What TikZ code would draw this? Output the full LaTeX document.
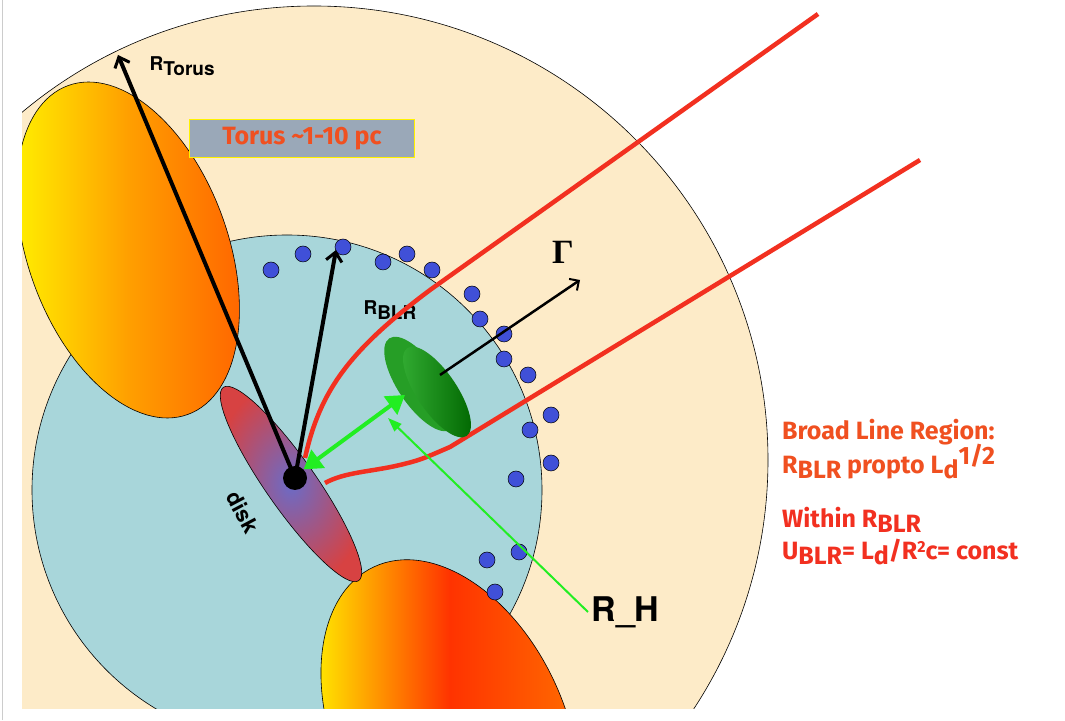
\documentclass[tikz,border=0pt]{standalone}
\usepackage{fontspec}
\setmainfont{Fira Sans}
\newfontfamily\heros{TeX Gyre Heros}
\newfontfamily\serifl{Liberation Serif}
\usetikzlibrary{arrows.meta}
\definecolor{beige}{HTML}{FDEBC8}
\definecolor{blr}{HTML}{A8D6DA}
\definecolor{dotb}{HTML}{4050D8}
\definecolor{jet}{HTML}{F23020}
\definecolor{lbl}{HTML}{F05020}
\definecolor{gr}{HTML}{22EE22}
\definecolor{boxc}{HTML}{9AA8B8}
\begin{document}
\begin{tikzpicture}[x=1pt,y=1pt,
  blob/.style={draw=black,line width=0.6pt},
  bdot/.style={circle,draw=black,line width=0.5pt,fill=dotb,minimum size=16pt,inner sep=0pt},
  barrow/.style={line width=4pt,-{Straight Barb[length=9pt,width=16pt,line width=3pt]}},
  jetl/.style={jet,line width=4.5pt},
  rtext/.style={anchor=west,font=\fontsize{25}{28}\selectfont\bfseries,inner sep=0pt}]
\useasboundingbox (0,0) rectangle (1065,720);
\fill[white] (0,0) rectangle (1065,720);
\draw[gray!40,line width=1pt] (2,0) -- (2,720);
\begin{scope}
\clip (22,12) rectangle (1065,720);
\fill[beige] (314,260) circle (454);
\draw[line width=0.6pt] (314,260) circle (454);
\fill[blr] (287,230) circle (255);
\draw[line width=0.6pt] (287,230) circle (255);
\shade[left color=yellow!95!orange,right color=orange!75!red,middle color=orange!75!yellow] (128,470) ellipse[x radius=175,y radius=100,rotate=-70];
\draw[blob] (128,470) ellipse[x radius=175,y radius=100,rotate=-70];
\shade[left color=yellow!95!orange,right color=orange!90!red,middle color=red!60!orange] (450,-10) ellipse[x radius=180,y radius=115,rotate=-65];
\draw[blob] (450,-10) ellipse[x radius=180,y radius=115,rotate=-65];
\end{scope}
% disk
\shade[inner color=blue!45!gray!80,outer color=red!65!gray!90] (291,236) ellipse[x radius=118,y radius=25,rotate=-55];
\draw[line width=0.6pt] (291,236) ellipse[x radius=118,y radius=25,rotate=-55];
\node[rotate=-62,font=\fontsize{22}{24}\selectfont\heros\bfseries,inner sep=0pt] (disk) at (243,208) {disk};
% dots
\foreach \p [count=\i] in {(271,450),(303,466),(343,473),(383,458),(407,466),(432,450),(472,426),(480,401),(504,386),(504,361),(528,345),(551,305),(530,290),(551,257),(516,241),(487,160),(519,168),(495,128)}
  \node[bdot] (d\i) at \p {};
% torus box
\node[draw=yellow,fill=boxc,line width=1pt,minimum width=225pt,minimum height=38pt,font=\fontsize{25}{28}\selectfont\bfseries,text=lbl] (box) at (302,581) {Torus \textasciitilde1-10 pc};
% center
\node[circle,fill=black,minimum size=24pt,inner sep=0pt] (bh) at (295,242) {};
\coordinate (tor) at (118,665);
\coordinate (blrp) at (336,470);
\draw[barrow] (bh.center) -- (tor);
\draw[barrow] (bh.center) -- (blrp);
\node[anchor=west,font=\fontsize{19}{21}\selectfont\heros\bfseries] (rt) at (146,654) {R\raisebox{-5pt}{Torus}};
\node[anchor=west,font=\fontsize{19}{21}\selectfont\heros\bfseries] (rb) at (360,410) {R\raisebox{-5pt}{BLR}};
% jets
\draw[jetl] (305,262) .. controls (320,330) and (350,370) .. (430,430) -- (818,706);
\draw[jetl] (325,237) .. controls (345,248) and (370,248) .. (400,255) .. controls (420,260) .. (450,273) -- (920,560);
% green cylinder
\fill[green!55!black!85] (420,336) ellipse[x radius=55,y radius=22,rotate=-56];
\shade[left color=green!60!black!80,right color=green!40!black] (437,328) ellipse[x radius=53,y radius=20,rotate=-56];
% Gamma
\coordinate (gs) at (440,345);
\coordinate (ge) at (580,440);
\draw[line width=2.5pt,-{Straight Barb[length=7pt,width=14pt,line width=2pt]}] (gs) -- (ge);
\node[font=\fontsize{34}{38}\selectfont\serifl\bfseries] (gam) at (563,468) {Γ};
% green arrows
\coordinate (gh) at (405,325);
\draw[gr,line width=4pt,{Triangle[length=18pt,width=22pt]}-{Triangle[length=18pt,width=22pt]}] (bh.north east) -- (gh);
\node[anchor=west,font=\fontsize{34}{38}\selectfont\heros\bfseries] (rh) at (588,108) {R\_H};
\draw[gr,line width=2pt,-{Triangle[length=14pt,width=10pt]}] (rh.west) -- (388,302);
% right text
\node[rtext,text=lbl] (t1) at (782,288) {Broad Line Region:};
\node[rtext,text=lbl] (t2) at (782,258) {R\raisebox{-5pt}{BLR} propto L\raisebox{-5pt}{d}\raisebox{9pt}{1/2}};
\node[rtext,text=jet] (t3) at (782,200) {Within R\raisebox{-5pt}{BLR}};
\node[rtext,text=jet] (t4) at (782,168) {U\raisebox{-5pt}{BLR}= L\raisebox{-5pt}{d}/R\raisebox{7pt}{\fontsize{16}{18}\selectfont 2}c= const};
\end{tikzpicture}
\end{document}
